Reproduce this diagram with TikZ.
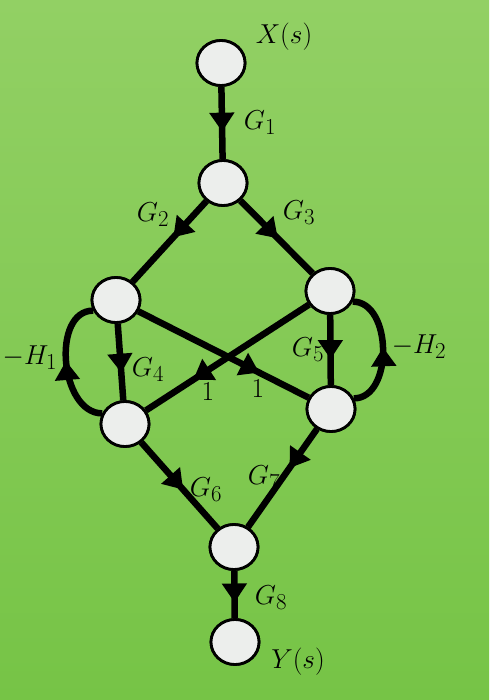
\documentclass[tikz,border=0pt]{standalone}
\usepackage{graphicx}
\usetikzlibrary{arrows.meta,decorations.markings,shapes.geometric}
\definecolor{bgtop}{RGB}{146,208,100}
\definecolor{bgbot}{RGB}{118,196,70}
\definecolor{nodefill}{RGB}{236,238,236}
\newcommand{\mylb}[1]{\scalebox{1.1}{$#1$}}
\tikzset{
  sfg/.style={ellipse,draw=black,line width=2.8pt,fill=nodefill,minimum width=48pt,minimum height=45pt,inner sep=0pt},
  edge/.style={line width=6.5pt,draw=black,postaction={decorate},
    decoration={markings,mark=at position #1 with {\arrow{Triangle[length=19pt,width=24pt]}}}},
  lbl/.style={font=\Huge,inner sep=0pt}
}
\begin{document}
\begin{tikzpicture}[x=1pt,y=-1pt]
\shade[top color=bgtop,bottom color=bgbot] (0,0) rectangle (489,700);
\useasboundingbox (0,0) rectangle (489,700);
\node[sfg] (n1) at (221,63) {};
\node[sfg] (n2) at (223,183) {};
\node[sfg] (n3) at (116,300) {};
\node[sfg] (n4) at (330,291) {};
\node[sfg] (n5) at (125,424) {};
\node[sfg] (n6) at (331,409) {};
\node[sfg] (n7) at (234,547) {};
\node[sfg] (n8) at (235,642) {};
% edges
\draw[edge=0.62] (n1) -- (n2);
\draw[edge=0.45] (n2) -- (n3);
\draw[edge=0.52] (n2) -- (n4);
\draw[edge=0.64] (n3) -- (n5);
\draw[edge=0.63] (n4) -- (n6);
\draw[edge=0.71] (n3) -- (n6);
\draw[edge=0.71] (n4) -- (n5);
\draw[edge=0.55] (n5) -- (n7);
\draw[edge=0.40] (n6) -- (n7);
\draw[edge=0.67] (n7) -- (n8);
\draw[edge=0.52] (n5.155) to[out=180,in=180,looseness=1.05] (n3.205);
\draw[edge=0.52] (n6.25) to[out=0,in=0,looseness=1.05] (n4.335);
% redraw nodes on top
\foreach \n in {n1,n2,n3,n4,n5,n6,n7,n8}{\node[sfg] at (\n) {};}
% labels
\node[lbl] (lx) at (284,37) {\mylb{X(s)}};
\node[lbl] (ly) at (298,662) {\mylb{Y(s)}};
\node[lbl] (g1) at (260,123) {\mylb{G_1}};
\node[lbl] (g2) at (153,215) {\mylb{G_2}};
\node[lbl] (g3) at (299,213) {\mylb{G_3}};
\node[lbl] (g4) at (148,370) {\mylb{G_4}};
\node[lbl] (g5) at (308,350) {\mylb{G_5}};
\node[lbl] (g6) at (206,490) {\mylb{G_6}};
\node[lbl] (g7) at (264,478) {\mylb{G_7}};
\node[lbl] (g8) at (271,598) {\mylb{G_8}};
\node[lbl] (h1) at (30,358) {\mylb{-H_1}};
\node[lbl] (h2) at (419,347) {\mylb{-H_2}};
\node[lbl] (o1) at (208,392) {\mylb{1}};
\node[lbl] (o2) at (258,389) {\mylb{1}};
\end{tikzpicture}
\end{document}
